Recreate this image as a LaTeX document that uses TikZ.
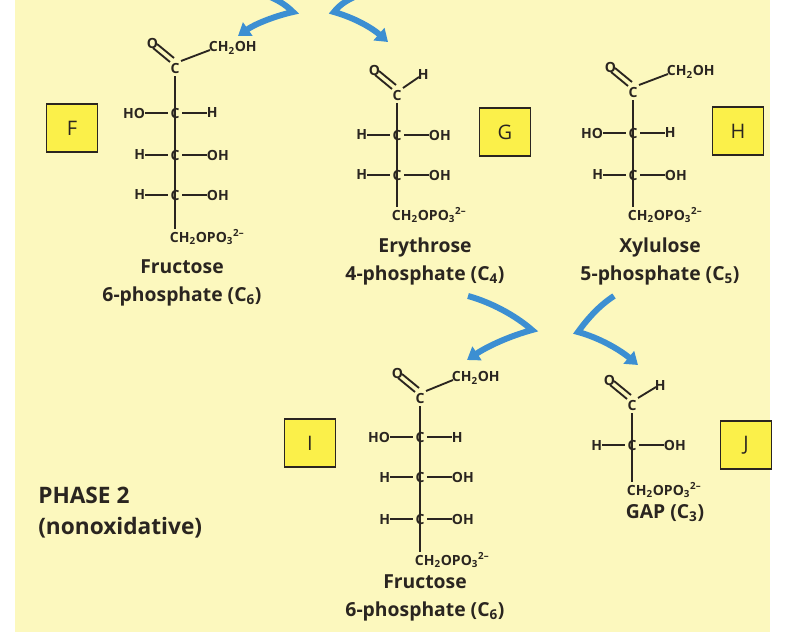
\documentclass[tikz,border=0pt]{standalone}
\usepackage{fontspec}
\setmainfont{Open Sans}
\usetikzlibrary{arrows.meta}
\definecolor{bg}{HTML}{FCF8BE}
\definecolor{boxy}{HTML}{FBF04A}
\definecolor{arr}{HTML}{3C8FD2}
\definecolor{ink}{HTML}{2A2520}
\tikzset{
 sm/.style={inner sep=0.5pt,font=\bfseries\fontsize{10.5}{11}\selectfont,text=ink},
 lbl/.style={inner sep=0pt,font=\bfseries\fontsize{14.5}{21}\selectfont,text=ink,align=center},
 bond/.style={draw=ink,line width=1.4pt},
 lbox/.style={draw=ink,line width=1pt,fill=boxy,minimum width=38pt,minimum height=36pt,font=\fontsize{15}{16}\selectfont,text=ink},
 flow/.style={draw=arr,line width=4.5pt,-{Triangle[length=9pt,width=12pt]}}
}
\newcommand\fisrow[4]{%
 \draw[bond] ({#1-30},#2)--({#1-7},#2) ({#1+7},#2)--({#1+32},#2);
 \node[sm] at (#1,#2) {C};
 \node[sm,anchor=east] at ({#1-29},#2) {#3};
 \node[sm,anchor=west] at ({#1+31},#2) {#4};}
\newcommand\fistop[4]{% x, y of C, right label
 \node[sm] at (#1,#2) {C};
 \draw[bond] ({#1-5},{#2-6})--({#1-22},{#2-20}) ({#1-1},{#2-10})--({#1-18},{#2-24});
 \node[sm,anchor=east] at ({#1-16},{#2-25}) {O};
 \draw[bond] ({#1+6},{#2-7})--({#1+#4},{#2-18});
 \node[sm,anchor=west] at ({#1+#4-2},{#2-20}) {#3};}
\newcommand\fisbot[3]{%
 \draw[bond] (#1,{#2+8})--(#1,{#3-8});
 \node[sm,anchor=west] at ({#1-6},#3) {CH\textsubscript{2}OPO\textsubscript{3}\textsuperscript{2–}};}
\begin{document}
\begin{tikzpicture}[x=0.75pt,y=-0.75pt]
\useasboundingbox (0,0) rectangle (798,642);
\fill[white] (0,0) rectangle (798,642);
\fill[bg] (15,0) rectangle (770,632);
% arrows
\draw[flow] (262,-6) .. controls (275,-2) and (285,4) .. (293,12) .. controls (275,16) and (255,24) .. (238,36);
\draw[flow] (362,-6) .. controls (350,-2) and (340,4) .. (334,12) .. controls (355,18) and (372,28) .. (388,42);
\draw[flow] (468,296) .. controls (490,302) and (515,315) .. (532,330) .. controls (510,336) and (488,346) .. (467,360);
\draw[flow] (614,296) .. controls (600,305) and (588,318) .. (578,332) .. controls (600,338) and (620,350) .. (638,365);
% F
\fistop{175}{68}{CH\textsubscript{2}OH}{35}
\fisrow{175}{113}{HO}{H}
\fisrow{175}{155}{H}{OH}
\fisrow{175}{195}{H}{OH}
\fisbot{175}{68}{237}
\node[lbl] (fl) at (182,283) {Fructose\\6-phosphate (C\textsubscript{6})};
\node[lbox] (F) at (72,128) {F};
% G
\fistop{397}{95}{H}{22}
\fisrow{397}{135}{H}{OH}
\fisrow{397}{175}{H}{OH}
\fisbot{397}{95}{215}
\node[lbl] (gl) at (425,261) {Erythrose\\4-phosphate (C\textsubscript{4})};
\node[lbox] (G) at (505,132) {G};
% H
\fistop{633}{92}{CH\textsubscript{2}OH}{35}
\fisrow{633}{133}{HO}{H}
\fisrow{633}{175}{H}{OH}
\fisbot{633}{92}{215}
\node[lbl] (hl) at (660,261) {Xylulose\\5-phosphate (C\textsubscript{5})};
\node[lbox] (H) at (738,131) {H};
% I
\fistop{420}{398}{CH\textsubscript{2}OH}{33}
\fisrow{420}{437}{HO}{H}
\fisrow{420}{477}{H}{OH}
\fisrow{420}{519}{H}{OH}
\fisbot{420}{398}{560}
\node[lbl] (il) at (425,598) {Fructose\\6-phosphate (C\textsubscript{6})};
\node[lbox] (I) at (310,443) {I};
% J
\fistop{632}{405}{H}{24}
\fisrow{632}{445}{H}{OH}
\fisbot{632}{405}{490}
\node[lbl] (jl) at (665,513) {GAP (C\textsubscript{3})};
\node[lbox] (J) at (746,445) {J};
\node[lbl,font=\bfseries\fontsize{17}{23}\selectfont,align=left,anchor=north west] (ph) at (38,487) {PHASE 2\\(nonoxidative)};
\end{tikzpicture}
\end{document}
